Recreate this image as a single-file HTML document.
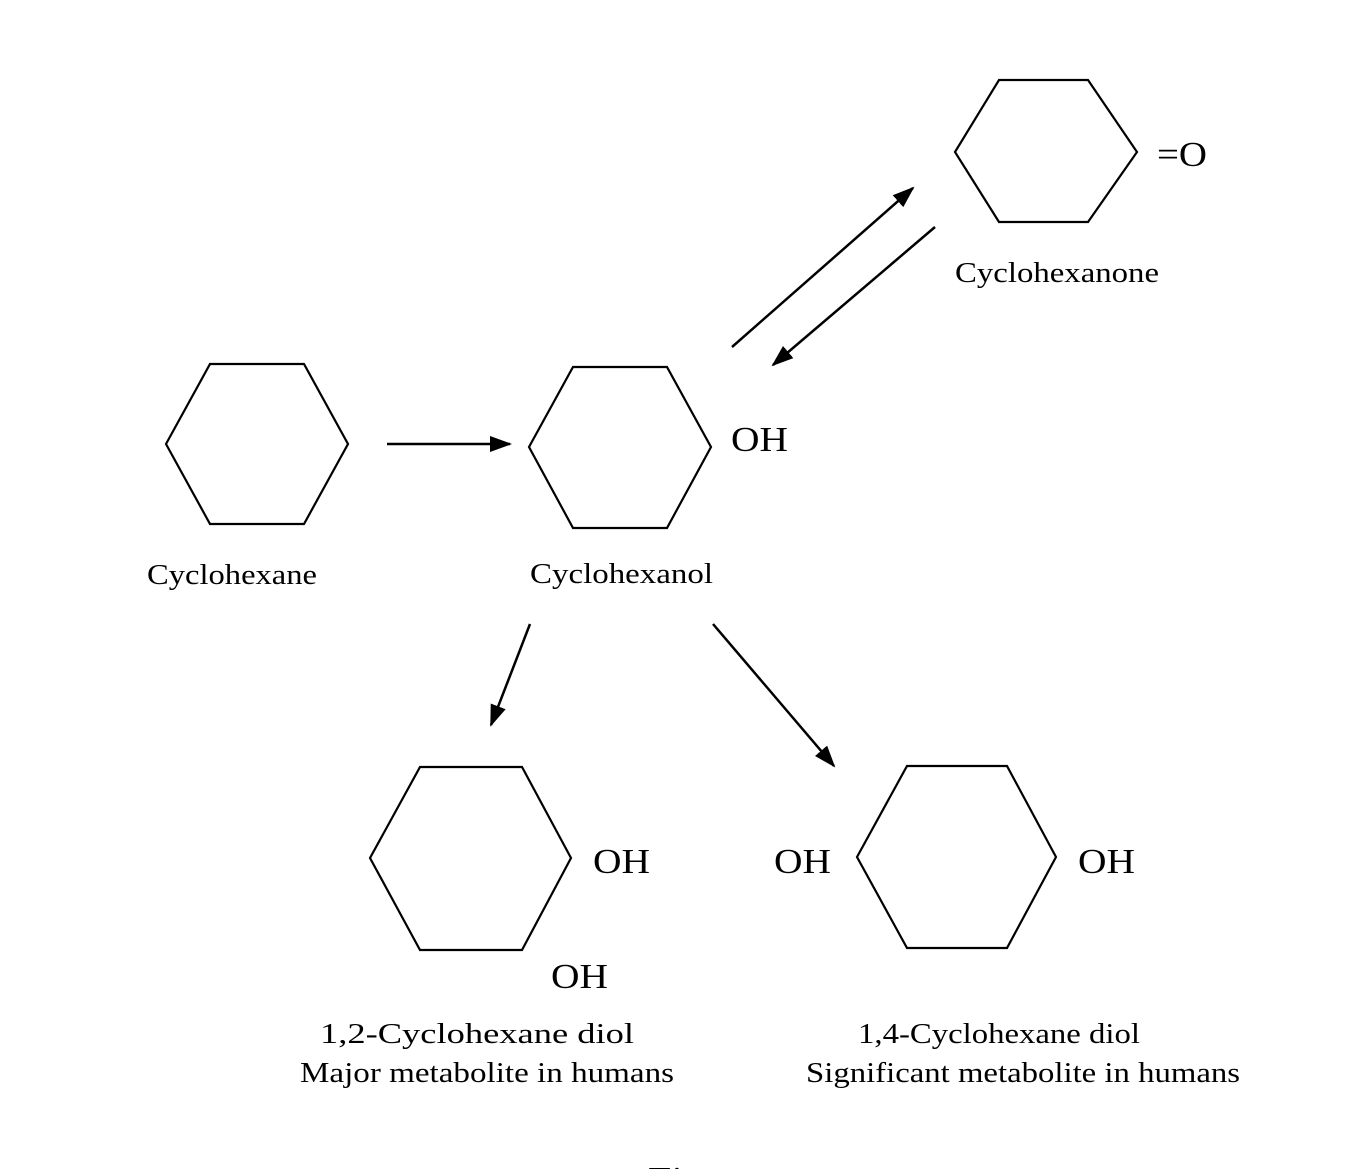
<!DOCTYPE html>
<html><head><style>body{margin:0;background:#fff}svg{display:block}</style></head><body>
<svg width="1349" height="1169" viewBox="0 0 1349 1169" xmlns="http://www.w3.org/2000/svg" font-family="Liberation Serif, serif" fill="#000">
<defs>
<marker id="b" viewBox="0 0 22 16" refX="20" refY="8" markerWidth="22" markerHeight="16" orient="auto" markerUnits="userSpaceOnUse"><path d="M0,0 L22,8 L0,16z"/></marker></defs>
<g fill="none" stroke="#000" stroke-width="2.2">
<polygon points="166,444 210,364 304,364 348,444 304,524 210,524"/>
<polygon points="529,447 573,367 667,367 711,447 667,528 573,528"/>
<polygon points="955,152 999,80 1088,80 1137,152 1088,222 999,222"/>
<polygon points="370,858 420,767 522,767 571,858 522,950 420,950"/>
<polygon points="857,857 907,766 1007,766 1056,857 1007,948 907,948"/>
<g stroke-width="2.5">
<line x1="387" y1="444" x2="510" y2="444" marker-end="url(#b)"/>
<line x1="732" y1="347" x2="913" y2="188" marker-end="url(#b)"/>
<line x1="935" y1="227" x2="773" y2="365" marker-end="url(#b)"/>
<line x1="530" y1="624" x2="491" y2="725" marker-end="url(#b)"/>
<line x1="713" y1="624" x2="834" y2="766" marker-end="url(#b)"/>
</g></g>
<g font-size="29">
<text x="147" y="584" textLength="170" lengthAdjust="spacingAndGlyphs">Cyclohexane</text>
<text x="530" y="583" textLength="183" lengthAdjust="spacingAndGlyphs">Cyclohexanol</text>
<text x="955" y="282" textLength="204" lengthAdjust="spacingAndGlyphs">Cyclohexanone</text>
<text x="320" y="1043" textLength="314" lengthAdjust="spacingAndGlyphs">1,2-Cyclohexane diol</text>
<text x="300" y="1082" textLength="374" lengthAdjust="spacingAndGlyphs">Major metabolite in humans</text>
<text x="858" y="1043" textLength="282" lengthAdjust="spacingAndGlyphs">1,4-Cyclohexane diol</text>
<text x="806" y="1082" textLength="434" lengthAdjust="spacingAndGlyphs">Significant metabolite in humans</text>
</g>
<g font-size="35">
<text x="1157" y="166" textLength="50" lengthAdjust="spacingAndGlyphs">=O</text>
<text x="731" y="451" textLength="57" lengthAdjust="spacingAndGlyphs">OH</text>
<text x="593" y="873" textLength="57" lengthAdjust="spacingAndGlyphs">OH</text>
<text x="551" y="988" textLength="57" lengthAdjust="spacingAndGlyphs">OH</text>
<text x="774" y="873" textLength="57" lengthAdjust="spacingAndGlyphs">OH</text>
<text x="1078" y="873" textLength="57" lengthAdjust="spacingAndGlyphs">OH</text>
<text x="648" y="1196" font-size="42">Fi</text>
</g>
</svg>
</body></html>
